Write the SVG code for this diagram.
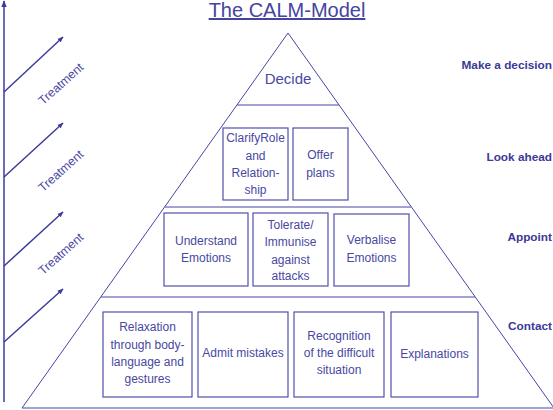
<svg xmlns="http://www.w3.org/2000/svg" width="553" height="410" viewBox="0 0 553 410">
<style>
.ln{stroke:#4646a6;fill:none;stroke-width:1}
.bx{stroke:#5050ac;fill:none;stroke-width:1.2}
.t{font-family:"Liberation Sans",Arial,sans-serif;fill:#4848a2;font-size:12px;text-anchor:middle;dominant-baseline:central}
.tr{font-size:12.3px}
.big{font-size:15px}
.lb{font-family:"Liberation Sans",Arial,sans-serif;fill:#3a3a96;font-size:11.8px;font-weight:bold;text-anchor:end;dominant-baseline:central}
.ar{stroke:#3c3c9c;stroke-width:1.5;fill:none}
</style>
<defs>
<marker id="ah" viewBox="0 0 10 10" refX="9" refY="5" markerWidth="6" markerHeight="6" orient="auto" markerUnits="userSpaceOnUse">
<path d="M0,1 L10,5 L0,9 Z" fill="#3c3c9c"/>
</marker>
<marker id="ah2" viewBox="0 0 10 10" refX="9" refY="5" markerWidth="7" markerHeight="7" orient="auto" markerUnits="userSpaceOnUse">
<path d="M0,1 L10,5 L0,9 Z" fill="#3c3c9c"/>
</marker>
</defs>
<text x="287" y="17" font-family="Liberation Sans,Arial,sans-serif" font-size="20" fill="#4545a0" text-anchor="middle" text-decoration="underline">The CALM-Model</text>
<g id="connectors">
<line class="ar" x1="4" y1="402" x2="4" y2="1" stroke-width="2" marker-end="url(#ah2)"/>
<line class="ar" x1="4" y1="92" x2="63" y2="37" marker-end="url(#ah)"/>
<line class="ar" x1="4" y1="177" x2="63" y2="123" marker-end="url(#ah)"/>
<line class="ar" x1="4" y1="266" x2="63" y2="212" marker-end="url(#ah)"/>
<line class="ar" x1="4" y1="342" x2="63" y2="289" marker-end="url(#ah)"/>
</g>
<g id="treatment-labels">
<text class="t tr" transform="translate(61,84) rotate(-42)">Treatment</text>
<text class="t tr" transform="translate(61,171) rotate(-42)">Treatment</text>
<text class="t tr" transform="translate(61,254) rotate(-42)">Treatment</text>
</g>
<g id="pyramid">
<path class="ln" d="M288,33 L22,408 L554,408 Z"/>
<line class="ln" x1="237" y1="105" x2="339" y2="105"/>
<line class="ln" x1="165" y1="207" x2="411" y2="207"/>
<line class="ln" x1="101" y1="297" x2="475" y2="297"/>
</g>
<g id="decide"><text class="t big" x="288" y="78">Decide</text></g>
<g id="clarify"><rect class="bx" x="223" y="128" width="65" height="72"/>
<text class="t" x="255.5" y="138">ClarifyRole</text><text class="t" x="255.5" y="156">and</text><text class="t" x="255.5" y="173">Relation-</text><text class="t" x="255.5" y="190">ship</text></g>
<g id="offer"><rect class="bx" x="293" y="128" width="55" height="72"/>
<text class="t" x="320.5" y="155">Offer</text><text class="t" x="320.5" y="173">plans</text></g>
<g id="understand"><rect class="bx" x="164" y="213" width="84" height="73"/>
<text class="t" x="206" y="241">Understand</text><text class="t" x="206" y="258">Emotions</text></g>
<g id="tolerate"><rect class="bx" x="253" y="213" width="75" height="73"/>
<text class="t" x="290.5" y="225">Tolerate/</text><text class="t" x="290.5" y="242">Immunise</text><text class="t" x="290.5" y="260">against</text><text class="t" x="290.5" y="276">attacks</text></g>
<g id="verbalise"><rect class="bx" x="334" y="214" width="75" height="72"/>
<text class="t" x="371.5" y="240">Verbalise</text><text class="t" x="371.5" y="258">Emotions</text></g>
<g id="relaxation"><rect class="bx" x="103" y="312" width="89" height="85"/>
<text class="t" x="147.5" y="327">Relaxation</text><text class="t" x="147.5" y="345">through body-</text><text class="t" x="147.5" y="362">language and</text><text class="t" x="147.5" y="379">gestures</text></g>
<g id="admit"><rect class="bx" x="198" y="312" width="90" height="85"/>
<text class="t" x="243" y="353">Admit mistakes</text></g>
<g id="recognition"><rect class="bx" x="294" y="312" width="90" height="85"/>
<text class="t" x="339" y="336">Recognition</text><text class="t" x="339" y="353">of the difficult</text><text class="t" x="339" y="370">situation</text></g>
<g id="explanations"><rect class="bx" x="391" y="312" width="87" height="85"/>
<text class="t" x="434.5" y="354">Explanations</text></g>
<g id="levels">
<text class="lb" x="552" y="65">Make a decision</text>
<text class="lb" x="552" y="157">Look ahead</text>
<text class="lb" x="552" y="237">Appoint</text>
<text class="lb" x="552" y="326">Contact</text>
</g>
</svg>
